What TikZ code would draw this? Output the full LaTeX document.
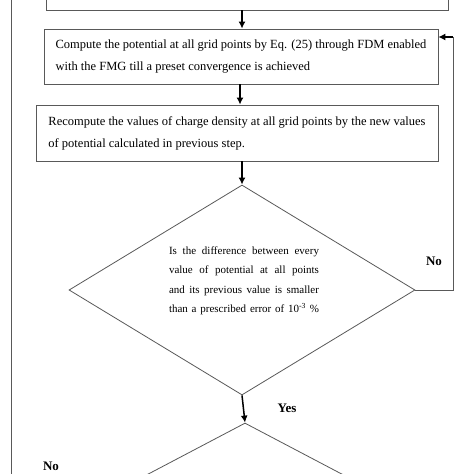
\documentclass[tikz,border=0pt]{standalone}
\usepackage{fontspec}
\setmainfont{Liberation Serif}
\usetikzlibrary{arrows.meta,shapes.geometric}
\begin{document}
\begin{tikzpicture}[x=1pt,y=-1pt,
  box/.style={draw=black!65, line width=0.8pt, rectangle, inner xsep=11pt, inner ysep=0pt, align=left,
    font=\fontsize{12.5}{22}\selectfont},
  dia/.style={draw=black!65, line width=0.8pt, diamond, inner sep=0pt},
  flow/.style={-{Latex[length=7pt,width=7pt]}, line width=1.5pt, black},
  feed/.style={draw=black!65, line width=0.9pt},
  lbl/.style={font=\fontsize{13}{15}\bfseries\selectfont, inner sep=0pt},
  dtext/.style={font=\fontsize{11}{19.5}\selectfont, inner sep=0pt, align=center}]
\useasboundingbox (0,0) rectangle (474,474);
\clip (0,0) rectangle (474,474);
\fill[white] (0,0) rectangle (474,474);
% left frame line
\coordinate (lt) at (11,0);
\coordinate (lb) at (11,474);
\draw[feed] (lt) -- (lb);
% top box (cut off)
\node[box, minimum width=402pt, minimum height=50pt] (b1) at (247,-15) {};
% box 2
\node[box, minimum width=394pt, minimum height=55pt] (b2) at (241,56.5)
 {Compute the potential at all grid points by Eq. (25) through FDM enabled\\with the FMG till a preset convergence is achieved};
% box 3
\node[box, minimum width=402pt, minimum height=56pt] (b3) at (237,133)
 {Recompute the values of charge density at all grid points by the new values\\of potential calculated in previous step.};
% diamond 1
\node[dia, minimum width=346pt, minimum height=210pt] (d1) at (242,290) {};
\node[dtext] (t1) at (244,281) {%
\makebox[150pt][s]{Is the difference between every}\\
\makebox[150pt][s]{value of potential at all points}\\
\makebox[150pt][s]{and its previous value is smaller}\\
\makebox[150pt][s]{than a prescribed error of 10\textsuperscript{-3} \%}};
% diamond 2
\node[dia, minimum width=380pt, minimum height=200pt] (d2) at (245,523) {};
% arrows
\draw[flow] (242,10) -- (b2.north -| 242,0);
\draw[flow] (b2.south -| 240,0) -- (b3.north -| 240,0);
\draw[flow] (b3.south -| 242,0) -- (d1.north);
\draw[flow] (d1.south) -- (d2.north);
% feedback
\coordinate (fr) at (453,290);
\coordinate (ft) at (453,37);
\draw[feed] (d1.east) -- (fr) -- (ft);
\draw[-{Latex[length=7pt,width=7pt]}, line width=1.2pt] (ft) -- (b2.east |- ft);
% labels
\node[lbl] (no1) at (434,261) {No};
\node[lbl] (yes) at (287,408) {Yes};
\node[lbl] (no2) at (51,466) {No};
\end{tikzpicture}
\end{document}
